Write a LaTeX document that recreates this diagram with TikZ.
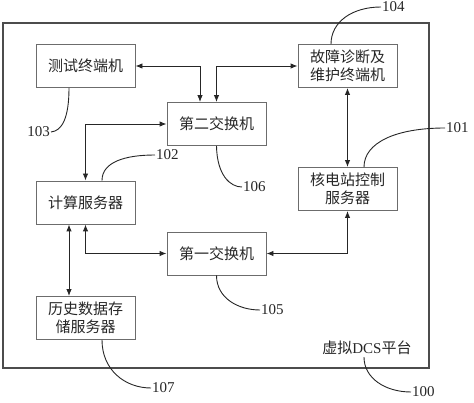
\documentclass[tikz,border=0pt]{standalone}
\usepackage{fontspec}
\setmainfont{Liberation Serif}
\newfontfamily\cjk{Noto Sans CJK SC}
\usetikzlibrary{arrows.meta}
\begin{document}
\begin{tikzpicture}[x=1pt,y=-1pt,
  box/.style={draw=gray!85!black,line width=0.9pt,minimum width=99pt,minimum height=43pt,inner sep=1pt,align=center,font=\cjk\fontsize{15}{18}\selectfont,text=black!85},
  arr/.style={draw=black!85,line width=0.9pt,{Latex[length=7pt,width=5.5pt]}-{Latex[length=7pt,width=5.5pt]}},
  lead/.style={draw=black!85,line width=0.9pt},
  num/.style={font=\fontsize{15}{18}\selectfont,text=black!85,inner sep=1pt}]
\useasboundingbox (0,0) rectangle (474,403);
\draw[draw=black!70,line width=1.1pt] (3,23) rectangle (429,368);
\node[box] (test) at (85.5,66) {测试终端机};
\node[box] (sw2) at (216.5,124) {第二交换机};
\node[box] (fault) at (347.5,66) {故障诊断及\\维护终端机};
\node[box] (npc) at (347.5,189) {核电站控制\\服务器};
\node[box] (calc) at (85.5,202.5) {计算服务器};
\node[box] (sw1) at (216.5,253.5) {第一交换机};
\node[box] (hist) at (85.5,318) {历史数据存\\储服务器};
\node[text=black!85,inner sep=1pt] (plat) at (367,348) {{\cjk\fontsize{15}{18}\selectfont 虚拟}\fontsize{15}{18}\selectfont DCS{\cjk\fontsize{15}{18}\selectfont 平台}};
% connectors
\draw[arr] (test.east) -| ([xshift=-16.5pt]sw2.north);
\draw[arr] (fault.west) -| (sw2.north);
\draw[arr] (sw2.west) -| (calc.north);
\draw[arr] (fault.south) -- (npc.north);
\draw[arr] ([xshift=-16.5pt]calc.south) -- ([xshift=-16.5pt]hist.north);
\draw[arr] (calc.south) |- (sw1.west);
\draw[arr] (sw1.east) -| (npc.south);
% leaders and numbers
\node[num,anchor=east] (n103) at (51,132) {103};
\draw[lead] ([xshift=-16.5pt]test.south) .. controls (69,118) and (62,131) .. (n103.east);
\node[num,anchor=west] (n102) at (155,155) {102};
\draw[lead] ([xshift=16.5pt]calc.north) .. controls (102,162) and (125,155) .. (n102.west);
\node[num,anchor=west] (n104) at (381,7) {104};
\draw[lead] ([xshift=-16.5pt]fault.north) .. controls (331,22) and (352,7) .. (n104.west);
\node[num,anchor=west] (n101) at (445,128) {101};
\draw[lead] ([xshift=16.5pt]npc.north) .. controls (364,143) and (395,128) .. (n101.west);
\node[num,anchor=west] (n106) at (242,187) {106};
\draw[lead] (sw2.south) .. controls (217,175) and (230,187) .. (n106.west);
\node[num,anchor=west] (n105) at (260,310) {105};
\draw[lead] (sw1.south) .. controls (216.5,298) and (238,310) .. (n105.west);
\node[num,anchor=west] (n107) at (151,388) {107};
\draw[lead] ([xshift=16.5pt]hist.south) .. controls (102,370) and (125,388) .. (n107.west);
\node[num,anchor=west] (n100) at (411,392) {100};
\draw[lead] ([xshift=-3pt,yshift=-1pt]plat.south) .. controls (364,378) and (385,392) .. (n100.west);
\end{tikzpicture}
\end{document}
